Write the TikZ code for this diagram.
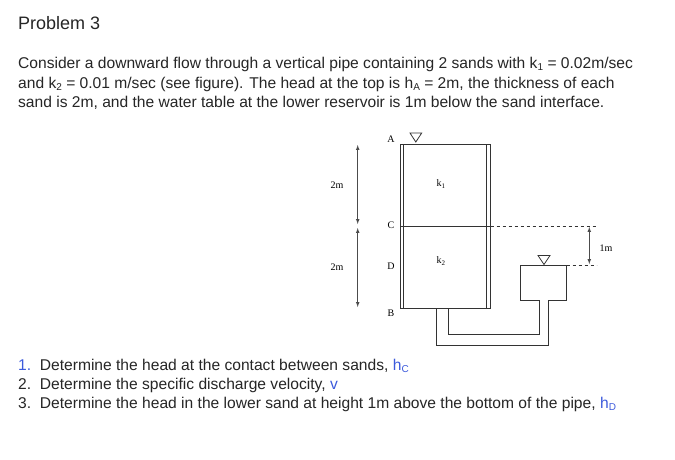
\documentclass[tikz,border=0pt]{standalone}
\usepackage{fontspec}
\setmainfont{Liberation Sans}
\newfontfamily\fig{Liberation Serif}
\definecolor{qblue}{RGB}{60,90,220}
\newcommand{\sbs}[1]{\raisebox{-0.3ex}{\fontsize{10}{11}\selectfont #1}}
\begin{document}
\begin{tikzpicture}[x=1pt,y=-1pt,
  txt/.style={anchor=base west,inner sep=0,font=\fontsize{15.6}{17}\selectfont,text=black!85},
  fl/.style={inner sep=0,font=\fig\fontsize{10}{11}\selectfont},
  ln/.style={line width=0.8pt,draw=black!80},
  dim/.style={line width=0.7pt,draw=black!70,{latex[scale=0.9]}-{latex[scale=0.9]}}]
\useasboundingbox[fill=white] (0,0) rectangle (675,459);
\node[txt,font=\fontsize{18}{20}\selectfont] (title) at (18,29) {Problem 3};
\node[txt] (l1) at (18,68) {Consider a downward flow through a vertical pipe containing 2 sands with k\sbs{1} = 0.02m/sec};
\node[txt] (l2) at (18,88) {and k\sbs{2} = 0.01 m/sec (see figure). The head at the top is h\sbs{A} = 2m, the thickness of each};
\node[txt] (l3) at (18,107) {sand is 2m, and the water table at the lower reservoir is 1m below the sand interface.};
\node[txt] (q1) at (18,370) {\textcolor{qblue}{1.}\ \ Determine the head at the contact between sands, \textcolor{qblue}{h\sbs{C}}};
\node[txt] (q2) at (18,389) {2.\ \ Determine the specific discharge velocity, \textcolor{qblue}{v}};
\node[txt] (q3) at (18,408) {3.\ \ Determine the head in the lower sand at height 1m above the bottom of the pipe, \textcolor{qblue}{h\sbs{D}}};
% pipe
\draw[ln] (400,144) rectangle (490.7,308.3);
\draw[ln] (403.3,144) -- (403.3,308.3) (486.7,144) -- (486.7,308.3);
\draw[ln] (400,226) -- (490.7,226);
\draw[ln,dashed] (490.7,226) -- (596.7,226);
\draw[ln,dashed] (566.7,265) -- (596.7,265);
% reservoir and tube
\draw[ln] (436.7,308.3) -- (436.7,345) -- (548.3,345) -- (548.3,300) -- (566.7,300) -- (566.7,265) -- (520,265) -- (520,300) -- (539,300) -- (539,334.3) -- (448.3,334.3) -- (448.3,308.3);
% water triangles
\draw[ln] (410,133) -- (421.7,133) -- (415.8,142) -- cycle;
\draw[ln] (538,255.5) -- (550,255.5) -- (544,264.5) -- cycle;
% labels
\node[fl] (A) at (391,139) {A};
\node[fl] (C) at (391,225) {C};
\node[fl] (D) at (391,266) {D};
\node[fl] (B) at (391,313) {B};
\node[fl] (k1) at (441,184) {k\textsubscript{1}};
\node[fl] (k2) at (441,261) {k\textsubscript{2}};
\node[fl] (m1) at (337,185) {2m};
\node[fl] (m2) at (337,267) {2m};
\node[fl] (m3) at (606,248) {1m};
\coordinate (a1) at (357.7,145); \coordinate (a2) at (357.7,224);
\coordinate (a3) at (357.7,228); \coordinate (a4) at (357.7,307);
\coordinate (a5) at (589.3,227); \coordinate (a6) at (589.3,264);
\draw[dim] (a1) -- (a2);
\draw[dim] (a3) -- (a4);
\draw[dim] (a5) -- (a6);
\end{tikzpicture}
\end{document}
